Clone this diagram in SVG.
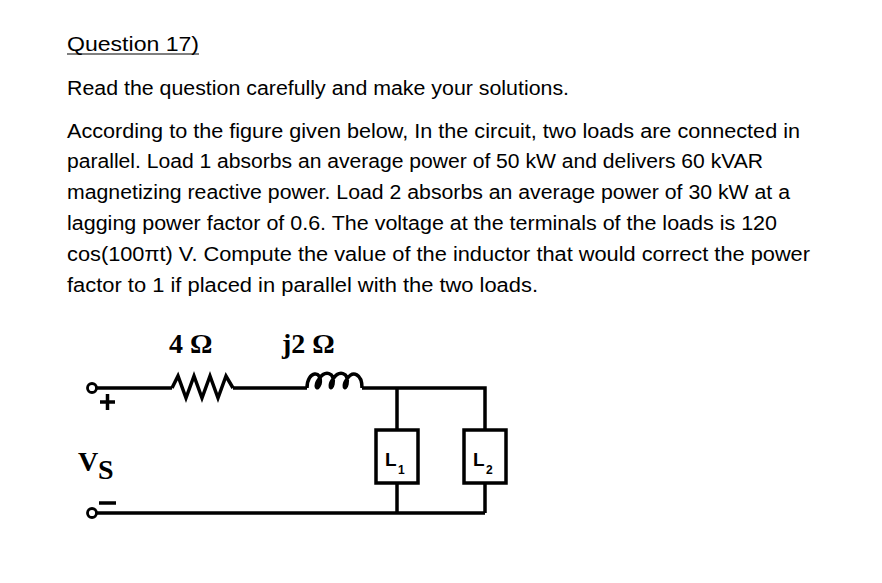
<svg xmlns="http://www.w3.org/2000/svg" width="882" height="583" viewBox="0 0 882 583">
<style>
.t{font-family:"Liberation Sans",Arial,sans-serif;font-size:19.5px;fill:#000}
.w{fill:none;stroke:#000;stroke-width:3.5;stroke-linejoin:miter}
.lb{font-family:"Liberation Serif","Times New Roman",serif;font-weight:bold;font-size:28px;fill:#000}
.bx{font-family:"Liberation Sans",Arial,sans-serif;font-weight:bold;fill:#000}
</style>
<rect width="882" height="583" fill="#fff"/>
<g id="text">
<text class="t" x="67" y="51" textLength="132" lengthAdjust="spacingAndGlyphs">Question 17)</text>
<line x1="67" y1="54" x2="199" y2="54" stroke="#000" stroke-width="1.2"/>
<text class="t" x="67" y="95" textLength="502" lengthAdjust="spacingAndGlyphs">Read the question carefully and make your solutions.</text>
<text class="t" x="67" y="138" textLength="733" lengthAdjust="spacingAndGlyphs">According to the figure given below, In the circuit, two loads are connected in</text>
<text class="t" x="67" y="168" textLength="696" lengthAdjust="spacingAndGlyphs">parallel. Load 1 absorbs an average power of 50 kW and delivers 60 kVAR</text>
<text class="t" x="67" y="199" textLength="723" lengthAdjust="spacingAndGlyphs">magnetizing reactive power. Load 2 absorbs an average power of 30 kW at a</text>
<text class="t" x="67" y="230" textLength="710" lengthAdjust="spacingAndGlyphs">lagging power factor of 0.6. The voltage at the terminals of the loads is 120</text>
<text class="t" x="67" y="261" textLength="743" lengthAdjust="spacingAndGlyphs">cos(100πt) V. Compute the value of the inductor that would correct the power</text>
<text class="t" x="67" y="292" textLength="471" lengthAdjust="spacingAndGlyphs">factor to 1 if placed in parallel with the two loads.</text>
</g>
<g id="connectors">
<path class="w" d="M96 388H172 M233 388H307 M362 388H485V430 M397 388V430 M397 483V513 M485 483V513 M96 513H485"/>
</g>
<g id="terminal-plus"><circle cx="92" cy="388" r="4.5" fill="#fff" stroke="#000" stroke-width="2.8"/>
<path d="M100 402H115M107.5 394V410" stroke="#000" stroke-width="3.5"/></g>
<g id="terminal-minus"><circle cx="92" cy="513" r="4.5" fill="#fff" stroke="#000" stroke-width="2.8"/>
<path d="M99 503H116" stroke="#000" stroke-width="3.5"/></g>
<g id="vs"><text class="lb" x="78" y="471" font-size="27">V</text><text class="lb" x="98" y="479" font-size="18">S</text></g>
<g id="resistor">
<path class="w" d="M172 388L178 376L186 398L194 376L202 398L210 376L218 398L226 376L233 388"/>
<text class="lb" x="169" y="353">4 Ω</text>
</g>
<g id="inductor">
<path class="w" d="M307 388C307 370 323 370 320 384C317 392 314 386 319 379C325 370 335 372 333 384C331 392 328 386 333 379C339 370 349 372 347 384C345 392 342 386 347 379C353 370 362 374 362 388"/>
<text class="lb" x="282" y="353">j2 Ω</text>
</g>
<g id="L1"><rect x="376" y="430" width="42" height="53" fill="#fff" stroke="#000" stroke-width="3.5"/>
<text class="bx" x="385" y="466" font-size="19">L</text><text class="bx" x="398" y="474" font-size="12">1</text></g>
<g id="L2"><rect x="464" y="430" width="42" height="53" fill="#fff" stroke="#000" stroke-width="3.5"/>
<text class="bx" x="473" y="466" font-size="19">L</text><text class="bx" x="486" y="474" font-size="12">2</text></g>
</svg>
